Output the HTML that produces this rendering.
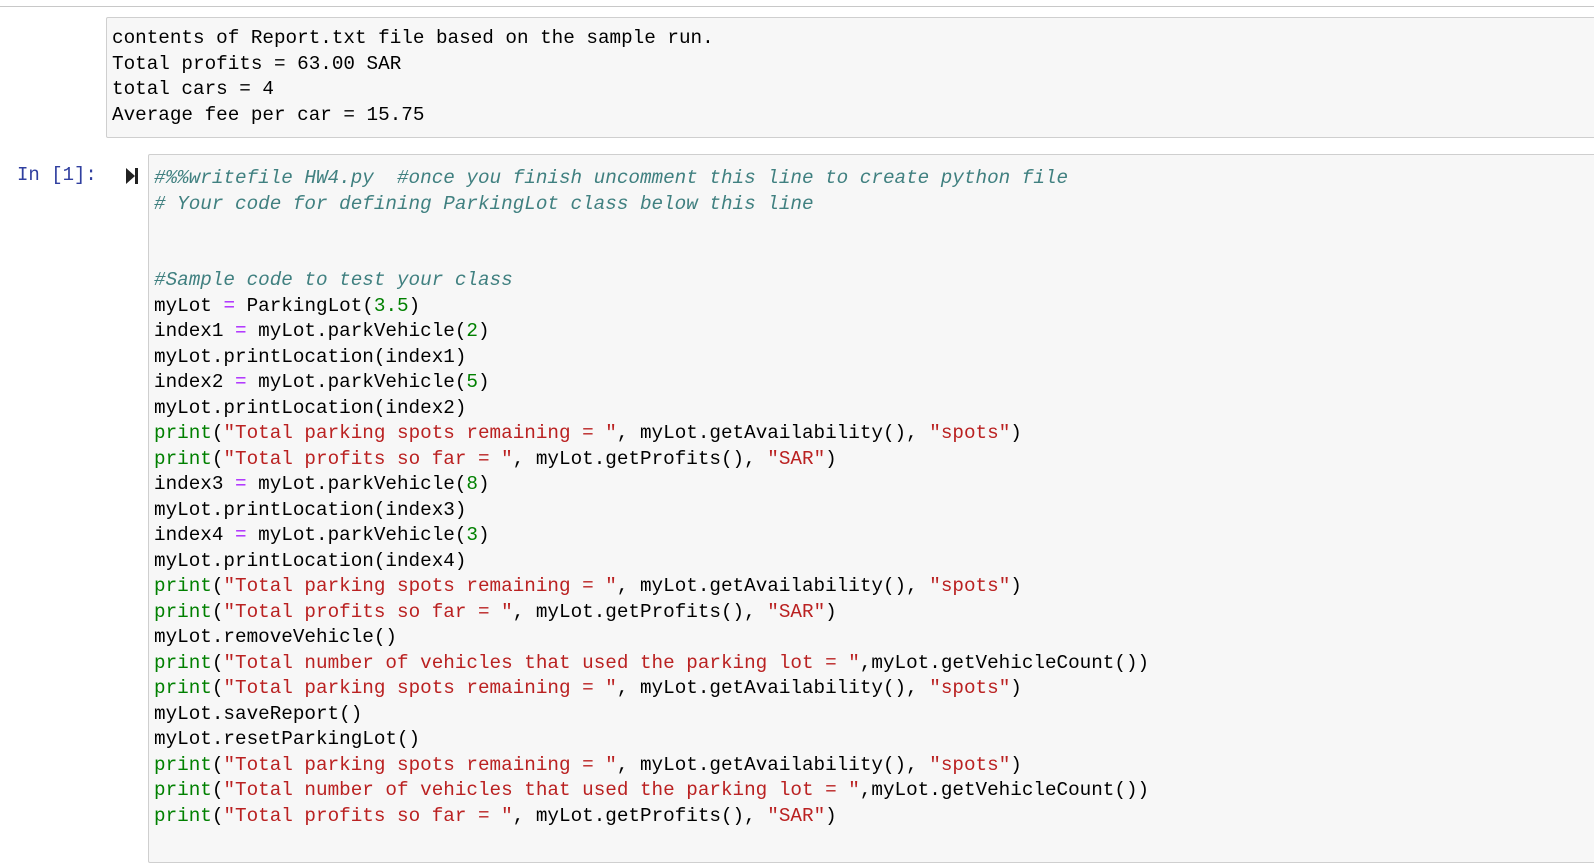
<!DOCTYPE html>
<html><head><style>
body{margin:0;width:1594px;height:866px;background:#fff;position:relative;overflow:hidden;font-family:"Liberation Mono",monospace;}
.hr{position:absolute;left:0;top:6px;width:1594px;height:1px;background:#c8c8c8;}
.box{position:absolute;background:#f7f7f7;border:1px solid #cfcfcf;border-radius:2px;}
pre{margin:0;position:absolute;font-family:"Liberation Mono",monospace;font-size:19.3px;line-height:25.5px;color:#000;}
.c{color:#408080;font-style:italic}.k{color:#008000}.s{color:#BA2121}.o{color:#AA22FF}.n{color:#008000}
.prompt{position:absolute;left:17px;top:164px;font-size:19px;color:#303f9f;font-family:"Liberation Mono",monospace;}
</style></head><body>
<div class="hr"></div>
<div class="box" style="left:106px;top:17px;width:1500px;height:119px;"></div>
<pre style="left:112px;top:26px;">contents of Report.txt file based on the sample run.
Total profits = 63.00 SAR
total cars = 4
Average fee per car = 15.75</pre>
<div class="prompt">In [1]:</div>
<svg style="position:absolute;left:125px;top:167px" width="14" height="18"><polygon points="1,1 10,9 1,17" fill="#222"/><rect x="10" y="1" width="3" height="16" fill="#222"/></svg>
<div class="box" style="left:148px;top:154px;width:1460px;height:707px;"></div>
<pre style="left:154px;top:166px;"><span class="c">#%%writefile HW4.py  #once you finish uncomment this line to create python file</span>
<span class="c"># Your code for defining ParkingLot class below this line</span>


<span class="c">#Sample code to test your class</span>
myLot <span class="o">=</span> ParkingLot(<span class="n">3.5</span>)
index1 <span class="o">=</span> myLot.parkVehicle(<span class="n">2</span>)
myLot.printLocation(index1)
index2 <span class="o">=</span> myLot.parkVehicle(<span class="n">5</span>)
myLot.printLocation(index2)
<span class="k">print</span>(<span class="s">"Total parking spots remaining = "</span>, myLot.getAvailability(), <span class="s">"spots"</span>)
<span class="k">print</span>(<span class="s">"Total profits so far = "</span>, myLot.getProfits(), <span class="s">"SAR"</span>)
index3 <span class="o">=</span> myLot.parkVehicle(<span class="n">8</span>)
myLot.printLocation(index3)
index4 <span class="o">=</span> myLot.parkVehicle(<span class="n">3</span>)
myLot.printLocation(index4)
<span class="k">print</span>(<span class="s">"Total parking spots remaining = "</span>, myLot.getAvailability(), <span class="s">"spots"</span>)
<span class="k">print</span>(<span class="s">"Total profits so far = "</span>, myLot.getProfits(), <span class="s">"SAR"</span>)
myLot.removeVehicle()
<span class="k">print</span>(<span class="s">"Total number of vehicles that used the parking lot = "</span>,myLot.getVehicleCount())
<span class="k">print</span>(<span class="s">"Total parking spots remaining = "</span>, myLot.getAvailability(), <span class="s">"spots"</span>)
myLot.saveReport()
myLot.resetParkingLot()
<span class="k">print</span>(<span class="s">"Total parking spots remaining = "</span>, myLot.getAvailability(), <span class="s">"spots"</span>)
<span class="k">print</span>(<span class="s">"Total number of vehicles that used the parking lot = "</span>,myLot.getVehicleCount())
<span class="k">print</span>(<span class="s">"Total profits so far = "</span>, myLot.getProfits(), <span class="s">"SAR"</span>)</pre>
</body></html>
